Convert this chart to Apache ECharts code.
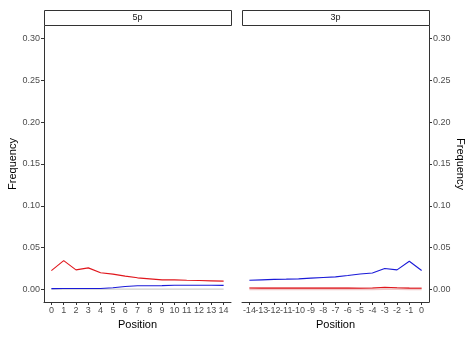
<!DOCTYPE html>
<html><head><meta charset="utf-8">
<script src="https://cdn.jsdelivr.net/npm/echarts@6/dist/echarts.min.js"></script>
<style>html,body{margin:0;padding:0;background:#fff}#c{width:474px;height:338px}</style>
</head><body><div id="c"></div>
<script>
const pos5p = [0,1,2,3,4,5,6,7,8,9,10,11,12,13,14];
const red5p = [0.0226,0.0345,0.0234,0.0258,0.0199,0.0183,0.0159,0.0139,0.0127,0.0115,0.0115,0.0110,0.0107,0.0103,0.0099];
const blue5p = [0.0010,0.0011,0.0012,0.0012,0.0012,0.0020,0.0036,0.0044,0.0045,0.0046,0.0050,0.0050,0.0050,0.0050,0.0049];
const gray5p = [0.0005,0.0005,0.0005,0.0005,0.0005,0.0005,0.0005,0.0005,0.0005,0.0005,0.0005,0.0005,0.0005,0.0005,0.0005];
const pos3p = [-14,-13,-12,-11,-10,-9,-8,-7,-6,-5,-4,-3,-2,-1,0];
const blue3p = [0.0110,0.0115,0.0120,0.0123,0.0127,0.0135,0.0143,0.0150,0.0166,0.0185,0.0197,0.0250,0.0234,0.0337,0.0226];
const red3p = [0.0017,0.0016,0.0016,0.0016,0.0016,0.0016,0.0016,0.0016,0.0016,0.0014,0.0018,0.0027,0.0020,0.0016,0.0015];
const gray3p = [0.0008,0.0008,0.0008,0.0008,0.0008,0.0008,0.0008,0.0008,0.0008,0.0008,0.0009,0.0012,0.0010,0.0008,0.0008];
const yTicks = [0,0.05,0.10,0.15,0.20,0.25,0.30];
const panels = ['5p','3p'];

const font = 'Liberation Sans, Arial, sans-serif';
const lab = {color:'#4d4d4d', fontSize:9, fontFamily:font};
const axisLine = {show:true, onZero:false, lineStyle:{color:'#333', width:1}};
const tick = {show:true, length:3, lineStyle:{color:'#333'}};
// order labels so the first/last pairs checked by ECharts' min/max overlap logic are not adjacent
function spread(vals){
  const a = vals.filter((v,i)=>i%2===0), b = vals.filter((v,i)=>i%2===1);
  return a.concat(b);
}
function xAxis(idx, vals, min, max){
  return {type:'value', gridIndex:idx, min:min, max:max,
    axisLine:axisLine, axisTick:Object.assign({customValues:vals}, tick),
    axisLabel:Object.assign({customValues:spread(vals), margin:4, hideOverlap:false}, lab),
    splitLine:{show:false},
    name:'Position', nameLocation:'middle', nameGap:17,
    nameTextStyle:{color:'#000', fontSize:11, fontFamily:font}};
}
function yAxis(idx, side){
  return {type:'value', gridIndex:idx, min:-0.015, max:0.315, position:side,
    axisLine:axisLine, axisTick:Object.assign({customValues:yTicks}, tick),
    axisLabel:Object.assign({customValues:yTicks, margin:4, formatter:v=>v.toFixed(2)}, lab),
    splitLine:{show:false},
    name:'Frequency', nameLocation:'middle', nameGap:side==='left'?25:22,
    nameRotate: side==='left'?90:-90,
    nameTextStyle:{color:'#000', fontSize:11, fontFamily:font}};
}
function line(xi, xs, ys, color, w, z){
  return {type:'line', xAxisIndex:xi, yAxisIndex:xi, data:xs.map((x,i)=>[x,ys[i]]),
    showSymbol:false, symbol:'none', lineStyle:{color:color, width:w}, itemStyle:{color:color}, z:z, silent:true, animation:false};
}
const chart = echarts.init(document.getElementById('c'));
chart.setOption({
  animation:false,
  grid:[{left:44, top:26, width:187, height:276, containLabel:false, outerBoundsMode:'none'},
        {left:242, top:26, width:187, height:276, containLabel:false, outerBoundsMode:'none'}],
  xAxis:[xAxis(0,pos5p,-0.6,14.6), xAxis(1,pos3p,-14.6,0.6)],
  yAxis:[yAxis(0,'left'), yAxis(1,'right')],
  graphic:[
    {type:'rect', shape:{x:44.5,y:10.5,width:187,height:15}, style:{fill:'#fff', stroke:'#333', lineWidth:1}},
    {type:'text', x:137.5, y:18, style:{text:panels[0], align:'center', verticalAlign:'middle', fill:'#1a1a1a', fontSize:9, fontFamily:font}},
    {type:'rect', shape:{x:242.5,y:10.5,width:187,height:15}, style:{fill:'#fff', stroke:'#333', lineWidth:1}},
    {type:'text', x:335.5, y:18, style:{text:panels[1], align:'center', verticalAlign:'middle', fill:'#1a1a1a', fontSize:9, fontFamily:font}}
  ],
  series:[
    line(0,pos5p,gray5p,'#d0d0d0',1.2,1),
    line(0,pos5p,red5p,'#e0161c',1.1,3),
    line(0,pos5p,blue5p,'#1a1ad8',1.1,2),
    line(1,pos3p,gray3p,'#f0c8c8',3,1),
    line(1,pos3p,red3p,'#e0161c',1.1,3),
    line(1,pos3p,blue3p,'#1a1ad8',1.1,2)
  ]
});
</script></body></html>
